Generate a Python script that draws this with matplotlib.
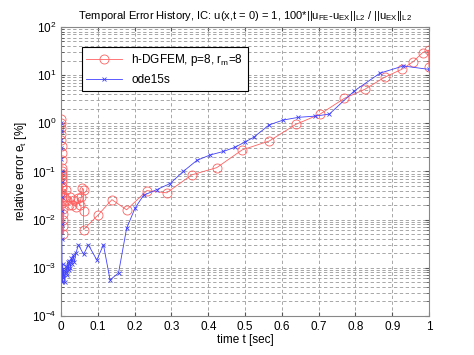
import numpy as np
import matplotlib
matplotlib.use("Agg")
import matplotlib.pyplot as plt
from matplotlib.ticker import LogLocator, NullFormatter, FixedLocator

plt.rcParams['font.family'] = ['Liberation Sans', 'DejaVu Sans']
plt.rcParams['mathtext.fontset'] = 'custom'
plt.rcParams['mathtext.rm'] = 'Liberation Sans'
plt.rcParams['mathtext.default'] = 'regular'

# h-DGFEM, p=8, r_m=8
dg_t = [0.000, 0.0002, 0.0004, 0.0006, 0.0008, 0.001, 0.0012, 0.0014, 0.0016,
        0.0018, 0.002, 0.0022, 0.0024, 0.0026, 0.0028, 0.003, 0.0032, 0.0034,
        0.0036, 0.0038, 0.004, 0.0043, 0.0046, 0.005, 0.008, 0.012,
        0.016, 0.02, 0.025, 0.03, 0.035, 0.04, 0.045, 0.05, 0.055, 0.058,
        0.061, 0.061, 0.061, 0.101, 0.138, 0.178, 0.233, 0.287, 0.355, 0.423,
        0.492, 0.566, 0.638, 0.704, 0.770, 0.826, 0.880, 0.926, 0.957, 0.983,
        0.999, 1.000]
dg_err = [1.2, 1.0, 0.8, 0.6, 0.45, 0.33, 0.24, 0.17, 0.12,
          0.09, 0.07, 0.1, 0.08, 0.06, 0.045, 0.035, 0.05, 0.03,
          0.022, 0.017, 0.013, 0.01, 0.0075, 0.005, 0.03, 0.042,
          0.025, 0.02, 0.03, 0.02, 0.026, 0.018, 0.028, 0.02, 0.03, 0.045,
          0.042, 0.015, 0.0062, 0.0126, 0.026, 0.016, 0.04, 0.036, 0.085, 0.12,
          0.28, 0.43, 0.95, 1.55, 3.3, 5.1, 9.1, 13.2, 19.0, 29.5,
          33.0, 15.0]

# ode15s
ode_t = [0.000, 0.0002, 0.0004, 0.0006, 0.0008, 0.001, 0.0012, 0.0014, 0.0016,
         0.0018, 0.002, 0.003, 0.004, 0.006, 0.008, 0.010, 0.012, 0.014,
         0.016, 0.018, 0.020, 0.022, 0.025, 0.028, 0.030, 0.033, 0.036,
         0.040, 0.047, 0.061, 0.074, 0.097, 0.115, 0.133, 0.156, 0.178,
         0.201, 0.224, 0.260, 0.296, 0.332, 0.369, 0.405, 0.441, 0.473,
         0.500, 0.523, 0.566, 0.604, 0.645, 0.690, 0.729, 0.797, 0.867,
         0.930, 0.999]
ode_err = [1.0, 0.7, 0.45, 0.3, 0.18, 0.1, 0.06, 0.03, 0.015,
           0.008, 0.004, 0.0005, 0.0012, 0.0006, 0.0009, 0.0005, 0.0008, 0.0011,
           0.0007, 0.0013, 0.0009, 0.0014, 0.001, 0.0016, 0.0012, 0.0018, 0.0013,
           0.002, 0.003, 0.0019, 0.003, 0.00145, 0.003, 0.00056, 0.00078, 0.0066,
           0.0174, 0.032, 0.042, 0.056, 0.1, 0.17, 0.22, 0.26, 0.32,
           0.41, 0.51, 0.93, 1.17, 1.33, 1.41, 1.55, 4.7, 11.0,
           15.5, 13.2]

fig = plt.figure(figsize=(4.74, 3.55), dpi=100)
ax = fig.add_axes([0.129, 0.110, 0.776, 0.814])

ax.semilogy(dg_t, dg_err, color='#ff6060', lw=0.6, marker='o', ms=6.5,
            mfc='none', mec='#ff6060', mew=0.6, label='h-DGFEM, p=8, r$_m$=8')
ax.semilogy(ode_t, ode_err, color='#4040ff', lw=0.6, marker='x', ms=2.5,
            mew=0.6, label='ode15s')

ax.set_xlim(0, 1)
ax.set_ylim(1e-4, 1e2)
ax.xaxis.set_major_locator(FixedLocator(np.arange(0, 1.01, 0.1)))
ax.set_xticklabels(['0', '0.1', '0.2', '0.3', '0.4', '0.5', '0.6', '0.7', '0.8', '0.9', '1'])
ax.yaxis.set_major_locator(LogLocator(base=10, numticks=10))
ax.yaxis.set_minor_locator(LogLocator(base=10, subs=np.arange(2, 10), numticks=20))
ax.yaxis.set_minor_formatter(NullFormatter())
ax.xaxis.get_offset_text().set_visible(False)
ax.yaxis.get_offset_text().set_visible(False)

ax.grid(True, which='major', ls=(0, (4, 3)), color='#999999', lw=0.6)
ax.grid(True, which='minor', axis='y', ls=(0, (4, 3)), color='#999999', lw=0.6)
ax.tick_params(which='both', direction='in', top=True, right=True, labelsize=8.5,
               length=3, color='#555555')
ax.tick_params(which='minor', length=2)
for s in ax.spines.values():
    s.set_color('#888888')
    s.set_linewidth(0.8)

ax.set_title('Temporal Error History, IC: u(x,t = 0) = 1, 100*||u$_{FE}$-u$_{EX}$||$_{L2}$ / ||u$_{EX}$||$_{L2}$',
             fontsize=8, pad=6)
ax.set_xlabel('time t [sec]', fontsize=8.5, labelpad=1)
ax.set_ylabel('relative error e$_t$ [%]', fontsize=8.5, labelpad=2)

leg = ax.legend(loc='upper left', bbox_to_anchor=(0.04, 0.95), fontsize=8.5,
                fancybox=False, framealpha=1, edgecolor='black',
                handlelength=3, borderpad=0.4, labelspacing=0.5)
leg.get_frame().set_linewidth(0.8)

fig.savefig('out.png', dpi=100)
